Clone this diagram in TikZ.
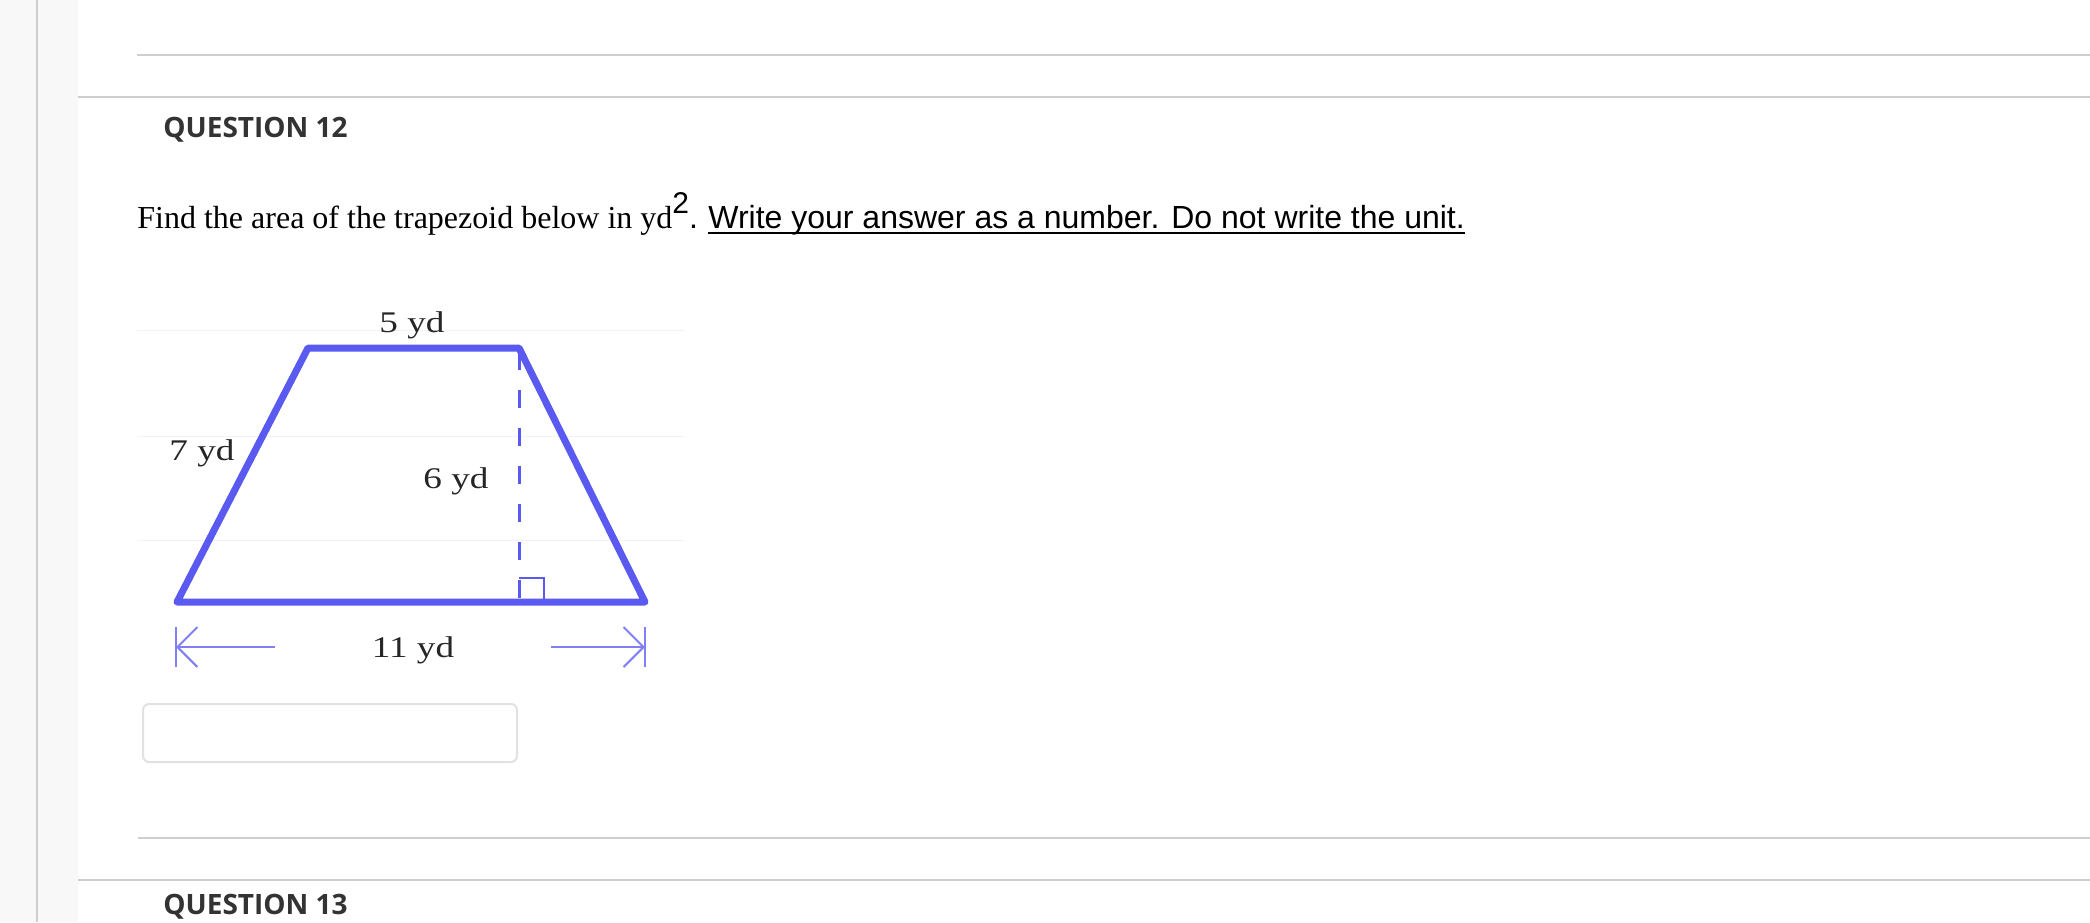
\documentclass[tikz,border=0pt]{standalone}
\usepackage{fontspec}
\setmainfont{Liberation Serif}
\newfontfamily\arialfont{Liberation Sans}
\newfontfamily\qfont{Open Sans}
\usetikzlibrary{arrows.meta}
\definecolor{trap}{RGB}{90,90,240}
\definecolor{dimblue}{RGB}{128,128,242}
\definecolor{rulegray}{RGB}{206,206,206}
\definecolor{stripgray}{RGB}{248,248,248}
\definecolor{boxgray}{RGB}{226,226,226}
\definecolor{qgray}{RGB}{51,51,51}
\tikzset{
  hrule/.style={draw=rulegray, line width=1pt},
  faint/.style={draw=black!5, line width=0.5pt},
  side/.style={draw=trap, line width=3.5pt, line cap=round, line join=round},
  heightline/.style={draw=trap, line width=1.5pt, dash pattern=on 9pt off 10pt, dash phase=-2pt},
  rightangle/.style={draw=trap, line width=1pt},
  dimline/.style={draw=dimblue, line width=1pt, -{Straight Barb[length=10pt,width=20pt,line width=1pt]}},
  dimtick/.style={draw=dimblue, line width=1pt},
  lbl/.style={font=\fontsize{15pt}{15pt}\selectfont, text=black!85, inner sep=0pt, anchor=base},
  qtitle/.style={font=\qfont\bfseries\fontsize{14pt}{14pt}\selectfont, text=qgray, inner sep=0pt, anchor=base west},
}
\newcommand{\wide}[1]{\scalebox{1.24}[1]{#1}}
\begin{document}
\begin{tikzpicture}[x=0.5pt,y=-0.5pt]
\useasboundingbox (0,0) rectangle (2090,922);
\clip (0,0) rectangle (2090,922);
\fill[white] (0,0) rectangle (2090,922);
% page frame
\fill[stripgray] (0,0) rectangle (78,922);
\draw[hrule] (37,0) -- (37,922);
\draw[hrule] (137,55) -- (2090,55);
\draw[hrule] (78,97) -- (2090,97);
\draw[hrule] (138,838) -- (2090,838);
\draw[hrule] (78,880) -- (2090,880);
% question
\node[qtitle] (q12) at (163,137) {QUESTION 12};
\node[anchor=base west, inner sep=0pt, font=\fontsize{16pt}{16pt}\selectfont] (ask) at (137,228)
  {Find the area of the trapezoid below in yd\raisebox{7.5pt}{\arialfont\fontsize{15pt}{15pt}\selectfont 2}{\arialfont .}};
\node[anchor=base west, inner sep=0pt, font=\arialfont\fontsize{16pt}{16pt}\selectfont] (note) at (708,228)
  {Write your answer as a number. Do not write the unit.\ };
\draw[line width=1pt] ([yshift=-2.5pt]note.base west) -- ([yshift=-2.5pt]note.base east);
% scan rows
\draw[faint] (137,330) -- (685,330);
\draw[faint] (137,436) -- (685,436);
\draw[faint] (137,540) -- (685,540);
% trapezoid
\coordinate (bl) at (177,602);
\coordinate (br) at (645,602);
\coordinate (tl) at (308,348);
\coordinate (tr) at (519,348);
\coordinate (foot) at (519,602);
\draw[heightline] (tr) -- (foot);
\draw[rightangle] ([shift={(0,-24)}]foot) -| ([shift={(25,0)}]foot);
\draw[side] (bl) -- (tl) -- (tr) -- (br) -- cycle;
\node[lbl] (top) at (412,332) {\wide{5 yd}};
\node[lbl] (leg) at (202,460) {\wide{7 yd}};
\node[lbl] (hgt) at (456,488) {\wide{6 yd}};
\node[lbl] (base) at (413,657) {\wide{11 yd}};
% base dimension
\coordinate (dl) at (176,647);
\coordinate (dr) at (645,647);
\coordinate (dlt) at (275,647);
\coordinate (drt) at (551,647);
\draw[dimline] (dlt) -- (dl);
\draw[dimline] (drt) -- (dr);
\draw[dimtick] ([yshift=10pt]dl) -- ([yshift=-10pt]dl);
\draw[dimtick] ([yshift=10pt]dr) -- ([yshift=-10pt]dr);
% answer
\draw[draw=boxgray, line width=1pt, rounded corners=3pt] (143,704) rectangle (517,762);
\node[qtitle] (q13) at (163,914) {QUESTION 13};
\end{tikzpicture}
\end{document}
